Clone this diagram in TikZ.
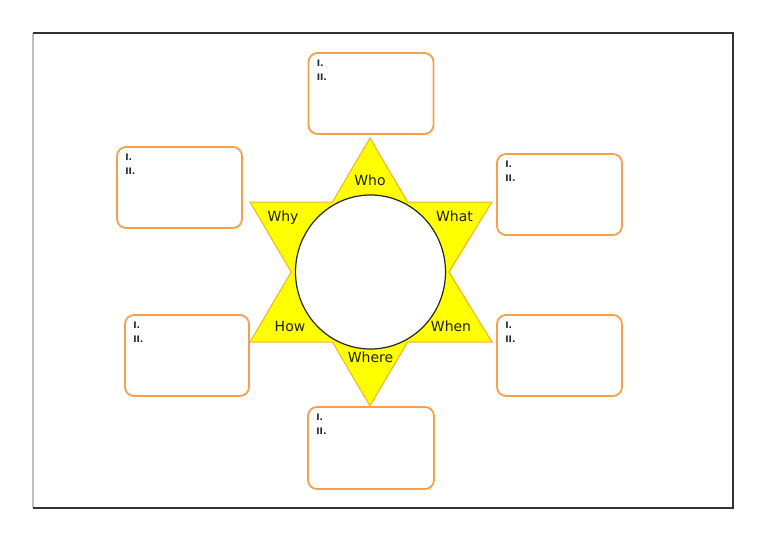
\documentclass[tikz,border=0pt]{standalone}
\usepackage{fontspec}
\setmainfont{DejaVu Sans}
\usetikzlibrary{shapes.geometric}
\definecolor{boxorange}{HTML}{F5A04A}
\definecolor{staryellow}{HTML}{FFFF00}
\definecolor{staredge}{HTML}{F0B030}
\definecolor{numblue}{HTML}{1E2A3A}
\definecolor{lbl}{HTML}{20200A}
\tikzset{
  infobox/.style={draw=boxorange, line width=1.8pt, rounded corners=9pt, fill=white,
    minimum width=124pt, minimum height=80pt, inner sep=0pt},
  numtext/.style={font=\fontsize{9}{14}\selectfont\bfseries, text=numblue, align=left,
    anchor=north west, inner sep=0pt},
  wlabel/.style={font=\fontsize{14}{16}\selectfont, text=lbl, anchor=base, inner sep=0pt}
}
\begin{document}
\begin{tikzpicture}[x=1pt,y=-1pt]
\useasboundingbox (0,0) rectangle (768,543);
\fill[white] (0,0) rectangle (768,543);
% frame
\draw[black!25, line width=1.2pt] (33,33) -- (33,508);
\draw[black!80, line width=1.4pt] (33,33) -- (733,33) -- (733,508) -- (33,508);
% star
\coordinate (st) at (370,138);
\coordinate (sb) at (370,406);
\fill[staryellow] (370,138) -- (492,342) -- (250,342) -- cycle;
\fill[staryellow] (370,406) -- (492,202) -- (250,202) -- cycle;
\draw[staredge, line width=1pt, line join=miter]
  (st) -- (407.6,202) -- (492,202) -- (448.8,272) -- (492,342) -- (407.6,342)
  -- (sb) -- (332.4,342) -- (250,342) -- (291.2,272) -- (250,202) -- (332.4,202) -- cycle;
% circle
\node[ellipse, draw=black!85, line width=1.2pt, fill=white, minimum width=150pt,
  minimum height=154pt, inner sep=0pt] (hub) at (370.5,272) {};
% labels
\node[wlabel] (who) at (370,185) {Who};
\node[wlabel] (why) at (283,221.5) {Why};
\node[wlabel] (what) at (454.5,221.5) {What};
\node[wlabel] (how) at (290,331.5) {How};
\node[wlabel] (when) at (451,331.5) {When};
\node[wlabel] (where) at (370.5,362.5) {Where};
% boxes
\node[infobox, minimum width=125pt, minimum height=81pt] (btop) at (371,93.5) {};
\node[infobox, minimum width=125pt, minimum height=81pt] (bul) at (179.5,187.5) {};
\node[infobox, minimum width=125pt, minimum height=81pt] (bur) at (559.5,194.5) {};
\node[infobox, minimum width=124pt, minimum height=81pt] (bll) at (187,355.5) {};
\node[infobox, minimum width=125pt, minimum height=81pt] (blr) at (559.5,355.5) {};
\node[infobox, minimum width=126pt, minimum height=82pt] (bbot) at (371,448) {};
% numerals
\foreach \b in {btop,bul,bur,bll,blr,bbot}{
  \node[numtext] (\b-n) at ([xshift=9pt,yshift=-8pt]\b.north west) {I.\\II.};
}
\end{tikzpicture}
\end{document}
